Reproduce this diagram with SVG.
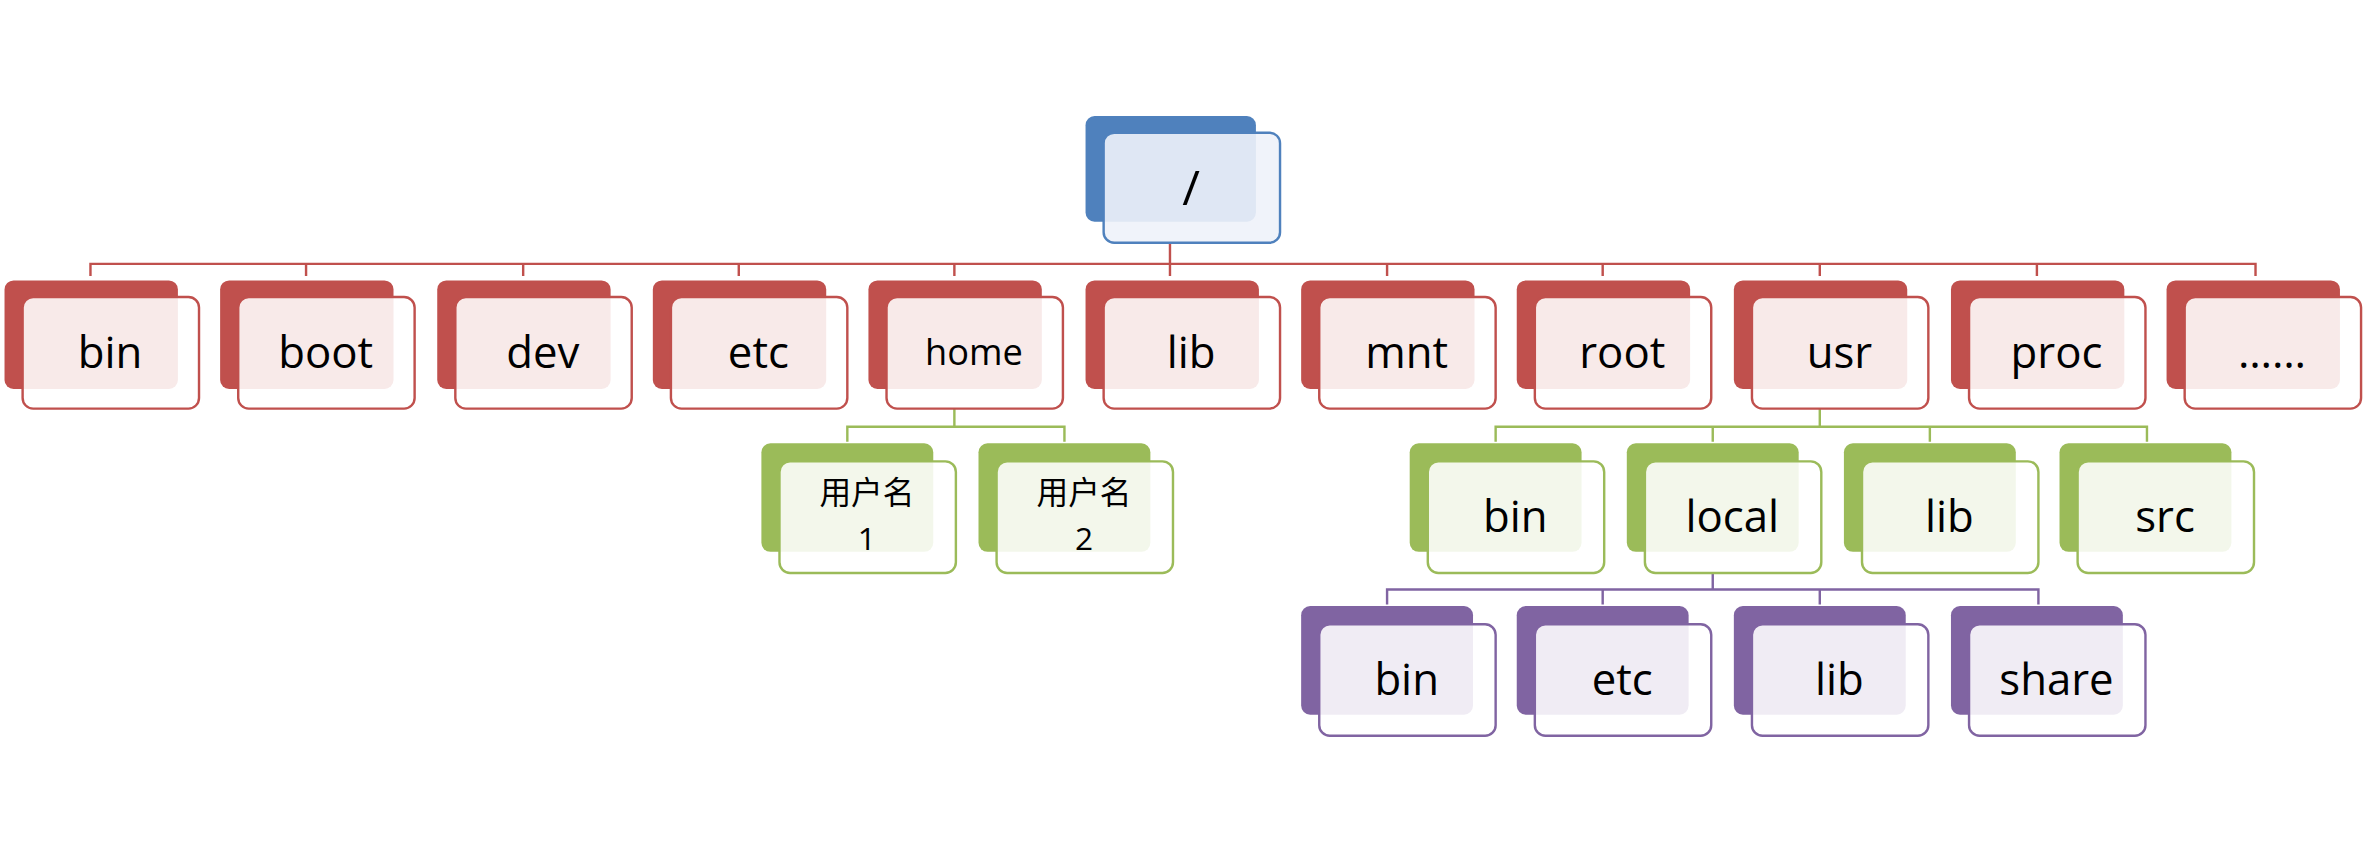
<svg xmlns="http://www.w3.org/2000/svg" width="2364" height="850" viewBox="0 0 2364 850">
<style>
.b{stroke:none}
.f{fill:#fff;fill-opacity:0.88;stroke-width:1.6}
.r .b{fill:#C0504D}.r .f{stroke:#C0504D}
.g .b{fill:#9BBB59}.g .f{stroke:#9BBB59}
.p .b{fill:#8064A2}.p .f{stroke:#8064A2}
.u .b{fill:#4F81BD}.u .f{stroke:#4F81BD;fill:#EEF2FA;fill-opacity:0.9}
text{font-family:"Open Sans","Liberation Sans","Noto Sans CJK SC",sans-serif;font-size:29px;fill:#000;text-anchor:middle}
.cn{font-size:21px}
.lr{stroke:#C0504D;stroke-width:1.6;fill:none}
.lg{stroke:#9BBB59;stroke-width:1.6;fill:none}
.lp{stroke:#8064A2;stroke-width:1.6;fill:none}
</style>
<rect width="2364" height="850" fill="#fff"/>
<g transform="scale(1.5077)">
<g id="connectors">
<path class="lr" d="M60 183V175H1496V183M203 175V183M347 175V183M490 175V183M633 175V183M776 161V183M920 175V183M1063 175V183M1207 175V183M1351 175V183"/>
<path class="lg" d="M633 271V283M562 293V283H706V293"/>
<path class="lg" d="M1207 271V283M992 293V283H1424V293M1136 283V293M1280 283V293"/>
<path class="lp" d="M1136 380V391M920 401V391H1352V401M1063 391V401M1207 391V401"/>
</g>
<g id="n-root" class="u"><rect class="b" x="720" y="77" width="113" height="70" rx="6"/><rect class="f" x="732" y="88" width="117" height="73" rx="7"/><text x="790" y="136" style="font-size:32px">/</text></g>
<g id="n-bin" class="r"><rect class="b" x="3" y="186" width="115" height="72" rx="6"/><rect class="f" x="15" y="197" width="117" height="74" rx="7"/><text x="73" y="244">bin</text></g>
<g id="n-boot" class="r"><rect class="b" x="146" y="186" width="115" height="72" rx="6"/><rect class="f" x="158" y="197" width="117" height="74" rx="7"/><text x="216" y="244">boot</text></g>
<g id="n-dev" class="r"><rect class="b" x="290" y="186" width="115" height="72" rx="6"/><rect class="f" x="302" y="197" width="117" height="74" rx="7"/><text x="360" y="244">dev</text></g>
<g id="n-etc" class="r"><rect class="b" x="433" y="186" width="115" height="72" rx="6"/><rect class="f" x="445" y="197" width="117" height="74" rx="7"/><text x="503" y="244">etc</text></g>
<g id="n-home" class="r"><rect class="b" x="576" y="186" width="115" height="72" rx="6"/><rect class="f" x="588" y="197" width="117" height="74" rx="7"/><text x="646" y="242" style="font-size:24px">home</text></g>
<g id="n-lib" class="r"><rect class="b" x="720" y="186" width="115" height="72" rx="6"/><rect class="f" x="732" y="197" width="117" height="74" rx="7"/><text x="790" y="244">lib</text></g>
<g id="n-mnt" class="r"><rect class="b" x="863" y="186" width="115" height="72" rx="6"/><rect class="f" x="875" y="197" width="117" height="74" rx="7"/><text x="933" y="244">mnt</text></g>
<g id="n-root2" class="r"><rect class="b" x="1006" y="186" width="115" height="72" rx="6"/><rect class="f" x="1018" y="197" width="117" height="74" rx="7"/><text x="1076" y="244">root</text></g>
<g id="n-usr" class="r"><rect class="b" x="1150" y="186" width="115" height="72" rx="6"/><rect class="f" x="1162" y="197" width="117" height="74" rx="7"/><text x="1220" y="244">usr</text></g>
<g id="n-proc" class="r"><rect class="b" x="1294" y="186" width="115" height="72" rx="6"/><rect class="f" x="1306" y="197" width="117" height="74" rx="7"/><text x="1364" y="244">proc</text></g>
<g id="n-more" class="r"><rect class="b" x="1437" y="186" width="115" height="72" rx="6"/><rect class="f" x="1449" y="197" width="117" height="74" rx="7"/><text x="1507" y="244">……</text></g>
<g id="n-user1" class="g"><rect class="b" x="505" y="294" width="114" height="72" rx="6"/><rect class="f" x="517" y="306" width="117" height="74" rx="7"/><text class="cn" x="575" y="334">用户名</text><text class="cn" x="575" y="365">1</text></g>
<g id="n-user2" class="g"><rect class="b" x="649" y="294" width="114" height="72" rx="6"/><rect class="f" x="661" y="306" width="117" height="74" rx="7"/><text class="cn" x="719" y="334">用户名</text><text class="cn" x="719" y="365">2</text></g>
<g id="n-ubin" class="g"><rect class="b" x="935" y="294" width="114" height="72" rx="6"/><rect class="f" x="947" y="306" width="117" height="74" rx="7"/><text x="1005" y="353">bin</text></g>
<g id="n-local" class="g"><rect class="b" x="1079" y="294" width="114" height="72" rx="6"/><rect class="f" x="1091" y="306" width="117" height="74" rx="7"/><text x="1149" y="353">local</text></g>
<g id="n-ulib" class="g"><rect class="b" x="1223" y="294" width="114" height="72" rx="6"/><rect class="f" x="1235" y="306" width="117" height="74" rx="7"/><text x="1293" y="353">lib</text></g>
<g id="n-src" class="g"><rect class="b" x="1366" y="294" width="114" height="72" rx="6"/><rect class="f" x="1378" y="306" width="117" height="74" rx="7"/><text x="1436" y="353">src</text></g>
<g id="n-lbin" class="p"><rect class="b" x="863" y="402" width="114" height="72" rx="6"/><rect class="f" x="875" y="414" width="117" height="74" rx="7"/><text x="933" y="461">bin</text></g>
<g id="n-letc" class="p"><rect class="b" x="1006" y="402" width="114" height="72" rx="6"/><rect class="f" x="1018" y="414" width="117" height="74" rx="7"/><text x="1076" y="461">etc</text></g>
<g id="n-llib" class="p"><rect class="b" x="1150" y="402" width="114" height="72" rx="6"/><rect class="f" x="1162" y="414" width="117" height="74" rx="7"/><text x="1220" y="461">lib</text></g>
<g id="n-share" class="p"><rect class="b" x="1294" y="402" width="114" height="72" rx="6"/><rect class="f" x="1306" y="414" width="117" height="74" rx="7"/><text x="1364" y="461">share</text></g>
</g>
</svg>
